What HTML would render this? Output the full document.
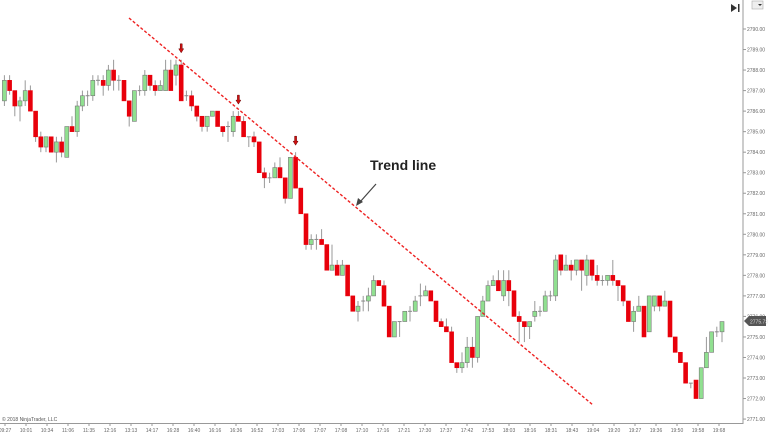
<!DOCTYPE html>
<html><head><meta charset="utf-8"><style>
html,body{margin:0;padding:0;background:#fff;}
svg{display:block;font-family:"Liberation Sans",sans-serif;}
</style></head><body>
<svg id="chart" width="768" height="435" viewBox="0 0 768 435" xmlns="http://www.w3.org/2000/svg">
<rect width="768" height="435" fill="#fff"/>
<g id="candles"></g>
<line x1="129" y1="18" x2="593" y2="405" stroke="#ee2222" stroke-width="1.4" stroke-dasharray="3,2"/>
<text x="370" y="170" font-size="14" font-weight="bold" fill="#222">Trend line</text>
<line x1="376" y1="184" x2="360" y2="202" stroke="#444" stroke-width="1.2"/>
<polygon points="356,206 358,198 363,202" fill="#444"/>
<g id="arrows"></g>
<line x1="743" y1="0" x2="743" y2="424" stroke="#999"/>
<line x1="0" y1="423.5" x2="743" y2="423.5" stroke="#999"/>
<g id="yaxis"></g>
<g id="xaxis"></g>
<text x="2" y="421" font-size="5" fill="#555">© 2018 NinjaTrader, LLC</text>
<g><polygon points="731,4 731,12 737,8" fill="#333"/><rect x="738" y="4" width="1.5" height="8" fill="#333"/></g>
<g><rect x="752" y="1" width="11" height="8" fill="#eee" stroke="#aaa" stroke-width="0.6"/><polygon points="758,4 762,4 760,6" fill="#333"/></g>
<g><polygon points="744,321 749,316 766,316 766,326 749,326" fill="#555"/><text x="750" y="323.5" font-size="5" fill="#ddd">2775.73</text></g>
</svg>
<script>
const opens=[2786.5,2787.5,2787.0,2786.25,2786.5,2787.0,2786.0,2784.75,2784.25,2784.75,2784.0,2784.5,2783.75,2785.25,2785.0,2786.25,2786.75,2786.75,2787.5,2787.5,2787.25,2788.0,2787.5,2787.5,2786.5,2785.5,2787.0,2787.0,2787.75,2787.25,2787.0,2787.0,2788.0,2787.75,2788.25,2786.75,2786.75,2786.25,2785.75,2785.25,2785.75,2786.0,2785.25,2785.25,2785.0,2785.75,2785.5,2784.75,2784.75,2784.5,2783.0,2782.75,2782.75,2783.25,2782.75,2781.75,2783.75,2782.25,2781.0,2779.5,2779.75,2779.75,2779.5,2778.25,2778.5,2778.0,2778.5,2777.0,2776.25,2776.75,2776.75,2777.0,2777.75,2777.5,2776.5,2775.0,2775.75,2775.75,2776.25,2776.25,2777.0,2777.0,2777.25,2776.75,2775.75,2775.5,2775.25,2773.75,2773.5,2773.75,2774.5,2774.0,2776.0,2776.75,2777.5,2777.75,2777.0,2777.75,2777.25,2776.0,2775.75,2775.5,2776.0,2776.25,2776.25,2777.0,2777.0,2779.0,2778.25,2778.5,2778.25,2778.75,2778.0,2778.75,2778.0,2777.75,2777.75,2778.0,2777.75,2777.5,2776.75,2775.75,2776.25,2776.5,2775.25,2776.5,2777.0,2776.5,2776.75,2775.0,2774.25,2773.75,2772.75,2772.9,2772.0,2773.5,2774.25,2775.25,2775.25];
const highs=[2787.75,2787.75,2787.0,2786.7,2787.5,2787.25,2786.0,2785.0,2784.75,2784.75,2784.75,2784.75,2785.25,2785.75,2786.5,2787.0,2787.0,2787.75,2787.75,2787.75,2788.25,2788.5,2787.75,2787.5,2786.5,2787.0,2787.25,2788.0,2787.75,2787.5,2787.5,2788.5,2788.5,2788.5,2788.5,2787.0,2787.0,2786.25,2785.75,2785.75,2786.0,2786.0,2785.25,2785.5,2786.0,2786.0,2785.75,2784.75,2785.0,2784.5,2783.25,2783.0,2783.5,2783.75,2782.75,2783.75,2784.0,2782.25,2781.0,2780.0,2780.0,2780.25,2779.5,2779.5,2778.75,2778.75,2778.5,2777.0,2776.75,2777.0,2777.4,2778.0,2777.75,2777.75,2776.5,2775.75,2775.75,2776.25,2776.5,2777.0,2777.6,2777.5,2777.25,2776.75,2775.9,2775.9,2775.5,2773.75,2774.25,2775.0,2775.0,2776.0,2777.0,2777.75,2778.0,2778.25,2778.25,2778.25,2777.25,2776.25,2775.75,2775.75,2776.75,2776.5,2777.25,2777.25,2779.0,2779.0,2779.0,2778.75,2778.75,2778.75,2779.0,2778.75,2778.5,2778.0,2778.0,2778.75,2777.75,2777.5,2776.75,2776.5,2777.0,2776.5,2777.0,2777.0,2777.0,2777.25,2776.75,2775.0,2774.25,2773.75,2772.75,2772.9,2773.5,2775.0,2775.25,2775.5,2775.75];
const lows=[2786.25,2786.8,2785.75,2785.5,2786.25,2786.0,2784.5,2784.0,2784.0,2784.0,2783.5,2783.75,2783.75,2785.0,2784.75,2786.0,2786.25,2786.5,2787.25,2786.75,2787.0,2787.0,2787.0,2786.5,2785.25,2785.5,2786.75,2786.75,2787.0,2786.75,2787.0,2787.0,2787.0,2787.25,2786.5,2786.5,2786.0,2785.5,2785.0,2785.0,2785.75,2785.25,2784.75,2784.5,2784.75,2785.5,2784.75,2784.25,2784.25,2783.0,2782.25,2782.5,2782.75,2782.75,2781.5,2781.75,2782.25,2781.0,2779.25,2779.25,2779.25,2779.5,2778.25,2778.25,2778.0,2778.0,2777.0,2776.25,2775.75,2776.25,2776.25,2777.0,2777.5,2776.5,2775.0,2775.0,2775.0,2775.75,2775.75,2776.25,2776.5,2777.0,2776.75,2775.75,2775.5,2775.25,2773.75,2773.25,2773.25,2773.5,2773.5,2773.75,2776.0,2776.75,2777.5,2777.25,2776.75,2776.5,2776.0,2774.75,2774.75,2774.9,2775.75,2776.0,2776.25,2776.75,2776.75,2778.0,2778.25,2777.75,2778.0,2777.25,2777.5,2777.75,2777.5,2777.5,2777.5,2777.5,2776.75,2776.5,2775.75,2775.25,2776.25,2775.0,2775.25,2776.25,2776.25,2776.5,2775.0,2774.25,2773.75,2772.75,2772.5,2772.0,2772.0,2773.5,2774.25,2775.0,2774.75];
const closes=[2787.5,2787.0,2786.25,2786.5,2787.0,2786.0,2784.75,2784.25,2784.75,2784.0,2784.5,2784.0,2785.25,2785.0,2786.25,2786.75,2786.75,2787.5,2787.5,2787.25,2788.0,2787.5,2787.5,2786.5,2785.75,2787.0,2787.0,2787.75,2787.25,2787.0,2787.25,2788.0,2787.0,2788.25,2786.5,2786.75,2786.25,2785.75,2785.25,2785.75,2786.0,2785.25,2785.0,2785.25,2785.75,2785.5,2784.75,2784.75,2784.5,2783.0,2782.75,2782.75,2783.25,2782.75,2781.75,2783.75,2782.25,2781.0,2779.5,2779.75,2779.75,2779.5,2778.25,2778.5,2778.0,2778.5,2777.0,2776.25,2776.5,2776.75,2777.0,2777.75,2777.5,2776.5,2775.0,2775.75,2775.75,2776.25,2776.25,2776.75,2777.0,2777.25,2776.75,2775.75,2775.5,2775.25,2773.75,2773.5,2773.75,2774.5,2774.0,2776.0,2776.75,2777.5,2777.75,2777.25,2777.75,2777.25,2776.0,2775.75,2775.5,2775.75,2776.25,2776.25,2777.0,2777.0,2778.75,2778.25,2778.5,2778.25,2778.75,2778.25,2778.75,2778.0,2777.75,2777.75,2778.0,2777.75,2777.5,2776.75,2775.75,2776.25,2776.5,2775.0,2777.0,2777.0,2776.5,2776.75,2775.0,2774.25,2773.75,2772.75,2772.75,2772.0,2773.5,2774.25,2775.25,2775.25,2775.75];
const priceTicks=[2790,2789,2788,2787,2786,2785,2784,2783,2782,2781,2780,2779,2778,2777,2776,2775,2774,2773,2772,2771];
const timeLabels=["09:27","10:01","10:34","11:06","11:35","12:16","13:13","14:17","16:28","16:40","16:16","16:36","16:52","17:03","17:06","17:07","17:08","17:10","17:16","17:21","17:30","17:37","17:42","17:53","18:03","18:16","18:31","18:43","19:04","19:20","19:27","19:36","19:50","19:58","19:68"];
const arrowCandles=[34,45,56];

const NS="http://www.w3.org/2000/svg";
function yS(p){return 29+(2790-p)*20.53;}
function xS(i){return 4.4+5.2*i;}
function mk(t,a,parent){const e=document.createElementNS(NS,t);for(const k in a)e.setAttribute(k,a[k]);parent.appendChild(e);return e;}
const cg=document.getElementById('candles');
for(let i=0;i<opens.length;i++){
  const x=xS(i),o=opens[i],c=closes[i],h=highs[i],l=lows[i];
  const g=mk('g',{},cg);
  
  
  mk('line',{x1:x,x2:x,y1:yS(h),y2:yS(l),stroke:'#999','stroke-width':1},g);
  const up=c>=o;const top=yS(Math.max(o,c));let hgt=Math.abs(yS(o)-yS(c));
  if(hgt<1){mk('line',{x1:x-2,x2:x+2,y1:top,y2:top,stroke:'#888','stroke-width':1},g);}
  else mk('rect',{x:x-2,y:top,width:4,height:hgt,fill:up?'#90e090':'#e8000b',stroke:up?'#777':'#e8000b','stroke-width':0.6},g);
}
const ag=document.getElementById('arrows');
arrowCandles.forEach(i=>{
  const x=xS(i),yt=yS(highs[i])-16;
  const p=mk('path',{d:`M${x-1},${yt} h2 v5 h1.5 l-2.5,4 l-2.5,-4 h1.5 z`,fill:'#d01010',stroke:'#600','stroke-width':0.5},ag);
  
  
});
const yg=document.getElementById('yaxis');
priceTicks.forEach(p=>{
  const y=yS(p);
  mk('line',{x1:743,x2:746,y1:y,y2:y,stroke:'#999'},yg);
  const t=mk('text',{x:747,y:y+2,'font-size':5,fill:'#666'},yg);
  
  
  t.textContent=p.toFixed(2);
});
const xg=document.getElementById('xaxis');
timeLabels.forEach((s,i)=>{
  const x=5+21*i;
  mk('line',{x1:x,x2:x,y1:423,y2:426,stroke:'#999'},xg);
  const t=mk('text',{x:x,y:432,'font-size':5,fill:'#666','text-anchor':'middle'},xg);
  
  
  t.textContent=s;
});
</script>
</body></html>
